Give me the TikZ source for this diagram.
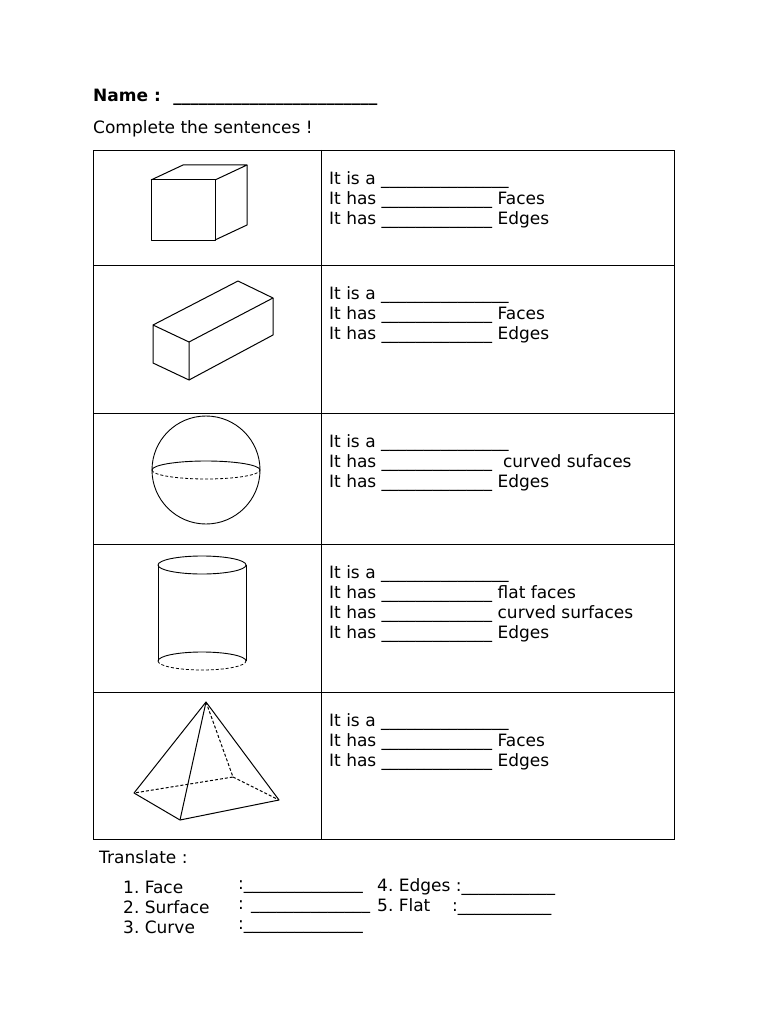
\documentclass[tikz,border=0pt]{standalone}
\usepackage{fontspec}
\setmainfont{DejaVu Sans}
\begin{document}
\begin{tikzpicture}[x=1pt,y=-1pt,
  txt/.style={anchor=west,inner sep=0pt,font=\fontsize{17}{20}\selectfont},
  shp/.style={line width=1pt,line join=round},
  hid/.style={line width=1pt,dashed,dash pattern=on 3pt off 2pt}]
\useasboundingbox (0,0) rectangle (768,1024);
\fill[white] (0,0) rectangle (768,1024);
\def\un#1{\count255=0 \loop\ifnum\count255<#1 \_\advance\count255 by 1 \repeat}
\node[txt] (nm) at (93,97) {\textbf{Name :} \ \textbf{\un{24}}};
\node[txt] (cs) at (93,129) {Complete the sentences !};
% table
\draw[line width=0.8pt] (93,150) rectangle (674,839);
\foreach \y in {265,413,544,692} \draw[line width=0.8pt] (93,\y) -- (674,\y);
\draw[line width=0.8pt] (321,150) -- (321,839);
\def\bl{\un{15}}
\def\bs{\un{13}}
% row texts
\node[txt] at (329,180) {It is a \bl};
\node[txt] at (329,200) {It has \bs\ Faces};
\node[txt] at (329,220) {It has \bs\ Edges};
\node[txt] at (329,295) {It is a \bl};
\node[txt] at (329,315) {It has \bs\ Faces};
\node[txt] at (329,335) {It has \bs\ Edges};
\node[txt] at (329,443) {It is a \bl};
\node[txt] at (329,463) {It has \bs\ \ curved sufaces};
\node[txt] at (329,483) {It has \bs\ Edges};
\node[txt] at (329,574) {It is a \bl};
\node[txt] at (329,594) {It has \bs\ flat faces};
\node[txt] at (329,614) {It has \bs\ curved surfaces};
\node[txt] at (329,634) {It has \bs\ Edges};
\node[txt] at (329,722) {It is a \bl};
\node[txt] at (329,742) {It has \bs\ Faces};
\node[txt] at (329,762) {It has \bs\ Edges};
% cube
\draw[shp] (151,180) -- (215,180) -- (215,240) -- (151,240) -- cycle;
\draw[shp] (151,180) -- (183,165) -- (247,165) -- (215,180);
\draw[shp] (247,165) -- (247,225) -- (215,240);
% cuboid
\draw[shp] (153,325) -- (189,342) -- (189,380) -- (153,363) -- cycle;
\draw[shp] (153,325) -- (238,281) -- (273,298) -- (189,342);
\draw[shp] (273,298) -- (273,335) -- (189,380);
% sphere
\draw[line width=0.9pt] (206,470) circle (54);
\draw[line width=0.9pt] (152,470) arc (180:360:54 and 9);
\draw[hid,line width=0.8pt] (152,470) arc (180:0:54 and 9);
% cylinder
\draw[line width=0.9pt] (202,565) ellipse (44 and 9);
\draw[line width=0.9pt] (158,565) -- (158,661);
\draw[line width=0.9pt] (246,565) -- (246,661);
\draw[line width=0.9pt] (158,661) arc (180:360:44 and 9);
\draw[hid,line width=0.8pt] (158,661) arc (180:0:44 and 9);
% pyramid
\coordinate (ap) at (206,702);
\coordinate (pl) at (134,793);
\coordinate (pf) at (180,820);
\coordinate (pr) at (279,800);
\coordinate (pb) at (233,777);
\draw[shp] (ap) -- (pl) -- (pf) -- (pr) -- cycle;
\draw[shp] (ap) -- (pf);
\draw[hid] (ap) -- (pb) -- (pl);
\draw[hid] (pb) -- (pr);
% translate
\node[txt] at (99,857) {Translate :};
\node[txt] at (123,887) {1.\ Face};
\node[txt] at (123,907) {2.\ Surface};
\node[txt] at (123,927) {3.\ Curve};
\node[txt] at (238,887) {:\un{14}};
\node[txt] at (238,907) {: \un{14}};
\node[txt] at (238,927) {:\un{14}};
\node[txt] at (377,887) {4.\ Edges :\un{11}};
\node[txt] at (377,907) {5.\ Flat \ \ \ :\un{11}};
\end{tikzpicture}
\end{document}
